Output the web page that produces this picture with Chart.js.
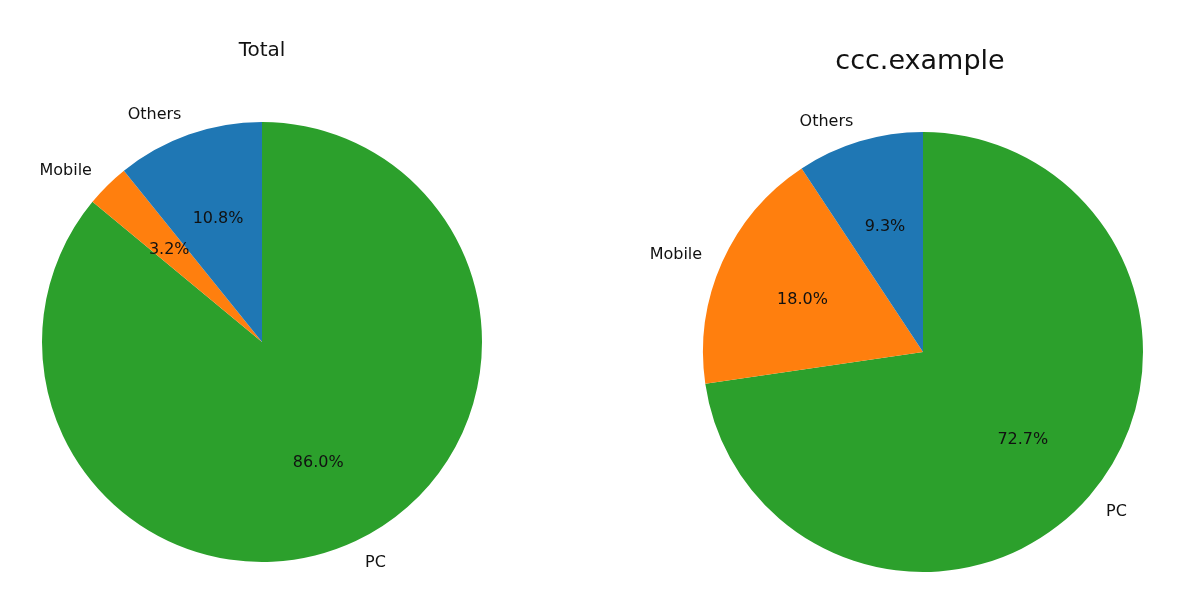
<!DOCTYPE html>
<html>
<head>
<meta charset="utf-8">
<script src="https://cdn.jsdelivr.net/npm/chart.js@4/dist/chart.umd.min.js"></script>
<style>
  html, body { margin: 0; padding: 0; background: #fff; }
  .wrap { display: flex; width: 1200px; height: 594px; }
  .box { position: relative; width: 600px; height: 594px; }
</style>
</head>
<body>
<div class="wrap">
  <div class="box"><canvas id="totalChart"></canvas></div>
  <div class="box"><canvas id="cccChart"></canvas></div>
</div>
<script>
// slices listed clockwise from the top (matplotlib draws them counter-clockwise)
const categories = ['PC', 'Mobile', 'Others'];
const totalValues = [86.0, 3.2, 10.8];
const cccValues = [72.7, 18.0, 9.3];
const sliceColors = ['#2ca02c', '#ff7f0e', '#1f77b4'];

const FONT = '"DejaVu Sans", Verdana, sans-serif';

// draws the outside labels, the percentages and the title
const pieText = {
    id: 'pieText',
    afterDatasetsDraw(chart, args, opts) {
        const ctx = chart.ctx;
        const meta = chart.getDatasetMeta(0);
        const values = chart.data.datasets[0].data;
        const sum = values.reduce((a, b) => a + b, 0);
        ctx.save();
        ctx.fillStyle = '#111';
        meta.data.forEach((arc, i) => {
            const mid = (arc.startAngle + arc.endAngle) / 2;
            const r = arc.outerRadius;
            const cx = Math.cos(mid), cy = Math.sin(mid);

            ctx.font = '16px ' + FONT;
            ctx.textBaseline = 'middle';
            ctx.textAlign = cx >= 0 ? 'left' : 'right';
            ctx.fillText(chart.data.labels[i], arc.x + cx * r * 1.1, arc.y + cy * r * 1.1 + 1.5);

            ctx.textAlign = 'center';
            const pct = (values[i] / sum * 100).toFixed(1) + '%';
            ctx.fillText(pct, arc.x + cx * r * 0.6, arc.y + cy * r * 0.6 + 1.5);
        });
        ctx.font = opts.titleSize + 'px ' + FONT;
        ctx.textAlign = 'center';
        ctx.textBaseline = 'middle';
        ctx.fillText(opts.title, opts.titleX, opts.titleY);
        ctx.restore();
    }
};

function makePie(id, values, title, padding, titleSize, titleX, titleY) {
    return new Chart(document.getElementById(id), {
        type: 'pie',
        data: {
            labels: categories,
            datasets: [{
                data: values,
                backgroundColor: sliceColors,
                borderWidth: 0
            }]
        },
        options: {
            responsive: false,
            animation: false,
            layout: { padding: padding },
            plugins: {
                legend: { display: false },
                tooltip: { enabled: false },
                pieText: { title: title, titleSize: titleSize, titleX: titleX, titleY: titleY }
            }
        },
        plugins: [pieText]
    });
}

function sizeCanvas(id) {
    const c = document.getElementById(id);
    c.width = 600;
    c.height = 594;
    c.style.width = '600px';
    c.style.height = '594px';
}
sizeCanvas('totalChart');
sizeCanvas('cccChart');

makePie('totalChart', totalValues, 'Total',
    { left: 42, right: 118, top: 122, bottom: 32 }, 20, 262, 51);
makePie('cccChart', cccValues, 'ccc.example',
    { left: 103, right: 57, top: 132, bottom: 22 }, 27, 320, 62);
</script>
</body>
</html>
